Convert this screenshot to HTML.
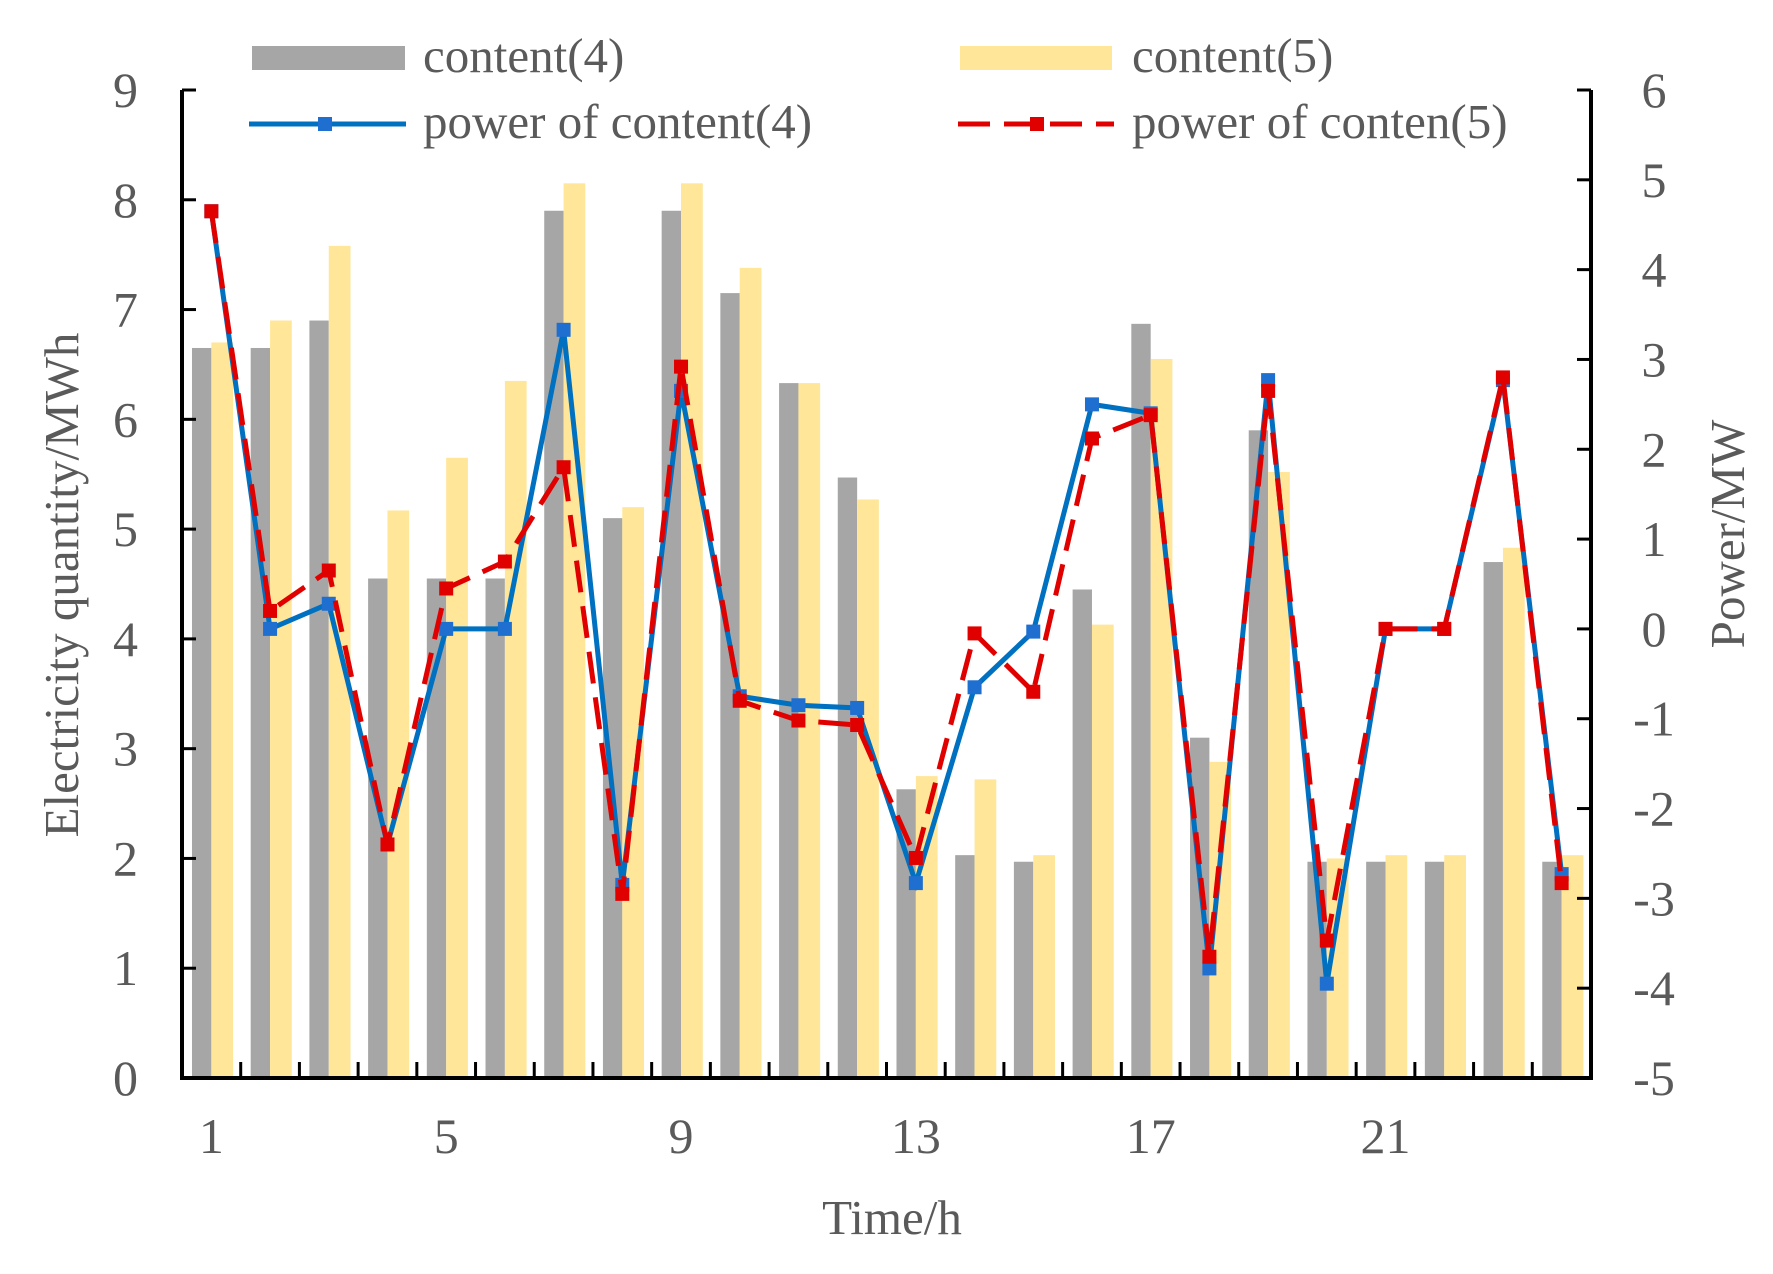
<!DOCTYPE html>
<html><head><meta charset="utf-8"><style>
body{margin:0;background:#fff}
svg{display:block;font-family:"Liberation Serif",serif}
</style></head><body>
<svg id="c" width="1773" height="1274" viewBox="0 0 1773 1274" xmlns="http://www.w3.org/2000/svg"></svg>
<script>
const hours=[1,2,3,4,5,6,7,8,9,10,11,12,13,14,15,16,17,18,19,20,21,22,23,24];
const content4=[6.65,6.65,6.9,4.55,4.55,4.55,7.9,5.1,7.9,7.15,6.33,5.47,2.63,2.03,1.97,4.45,6.87,3.1,5.9,1.97,1.97,1.97,4.7,1.97];
const content5=[6.7,6.9,7.58,5.17,5.65,6.35,8.15,5.2,8.15,7.38,6.33,5.27,2.75,2.72,2.03,4.13,6.55,2.88,5.52,2.0,2.03,2.03,4.83,2.03];
const power4=[4.65,0,0.28,-2.4,0,0,3.33,-2.85,2.65,-0.75,-0.85,-0.88,-2.83,-0.65,-0.03,2.5,2.4,-3.78,2.77,-3.95,0,0,2.77,-2.73];
const power5=[4.65,0.2,0.65,-2.4,0.45,0.75,1.8,-2.95,2.92,-0.8,-1.02,-1.07,-2.55,-0.05,-0.7,2.12,2.38,-3.65,2.65,-3.47,0,0,2.8,-2.83];
const leftTicks=[0,1,2,3,4,5,6,7,8,9];
const rightTicks=[-5,-4,-3,-2,-1,0,1,2,3,4,5,6];
const xLabels=[1,5,9,13,17,21];

const L=182,R=1591,T=90,B=1078,N=hours.length,cw=(R-L)/N;
const xc=h=>L+(h-0.5)*cw;
const yl=v=>B-(v/9)*(B-T);
const yr=v=>B-((v+5)/11)*(B-T);
const svg=document.getElementById('c');
const NS='http://www.w3.org/2000/svg';
function mk(tag,attrs,parent){const e=document.createElementNS(NS,tag);for(const k in attrs)e.setAttribute(k,attrs[k]);(parent||svg).appendChild(e);return e;}
const txtCol='#5a5a5a';

hours.forEach((h,i)=>{
  const x0=L+(h-1)*cw;
  let b=mk('rect',{x:x0+cw*0.17,y:yl(content4[i]),width:cw*0.33,height:B-yl(content4[i]),fill:'#a6a6a6'});
  
  
  b=mk('rect',{x:x0+cw*0.5,y:yl(content5[i]),width:cw*0.37,height:B-yl(content5[i]),fill:'#ffe699'});
  
  
});
let p4=mk('polyline',{points:hours.map((h,i)=>xc(h)+','+yr(power4[i])).join(' '),fill:'none',stroke:'#0070c0','stroke-width':5});


hours.forEach((h,i)=>{const m=mk('rect',{x:xc(h)-7,y:yr(power4[i])-7,width:14,height:14,fill:'#1f6fd0'});

});
let p5=mk('polyline',{points:hours.map((h,i)=>xc(h)+','+yr(power5[i])).join(' '),fill:'none',stroke:'#e00000','stroke-width':5,'stroke-dasharray':'32 14'});


hours.forEach((h,i)=>{const m=mk('rect',{x:xc(h)-7,y:yr(power5[i])-7,width:14,height:14,fill:'#e00000'});

});

const ax=mk('path',{d:`M${L},${T}V${B}H${R}V${T}`,fill:'none',stroke:'#000','stroke-width':4});


leftTicks.forEach(v=>{
  mk('line',{x1:L,x2:L+14,y1:yl(v),y2:yl(v),stroke:'#000','stroke-width':3});
  const t=mk('text',{x:138,y:yl(v)+17,'text-anchor':'end','font-size':50,fill:txtCol});t.textContent=v;
  
  
});
rightTicks.forEach(v=>{
  mk('line',{x1:R,x2:R-14,y1:yr(v),y2:yr(v),stroke:'#000','stroke-width':3});
  const t=mk('text',{x:1654,y:yr(v)+17,'text-anchor':'middle','font-size':50,fill:txtCol});t.textContent=v;
  
  
});
for(let k=1;k<N;k++){const x=L+k*cw;mk('line',{x1:x,x2:x,y1:B,y2:B-16,stroke:'#000','stroke-width':3});}
xLabels.forEach(v=>{
  const t=mk('text',{x:xc(v),y:1153,'text-anchor':'middle','font-size':50,fill:txtCol});t.textContent=v;
  
  
});
</script>
<svg style="position:absolute;left:0;top:0" width="1773" height="1274">
<g font-family="Liberation Serif,serif" fill="#5a5a5a" font-size="49">
<text x="892" y="1234" text-anchor="middle">Time/h</text>
<text transform="translate(78,585) rotate(-90)" text-anchor="middle">Electricity quantity/MWh</text>
<text transform="translate(1744,534) rotate(-90)" text-anchor="middle">Power/MW</text>
<g>
<rect x="252" y="46" width="153" height="24" fill="#a6a6a6"/>
<text x="423" y="72">content(4)</text>
<rect x="960" y="46" width="152" height="24" fill="#ffe699"/>
<text x="1132" y="72">content(5)</text>
<line x1="249" x2="406" y1="124" y2="124" stroke="#0070c0" stroke-width="5"/>
<rect x="318" y="117" width="14" height="14" fill="#1f6fd0"/>
<text x="423" y="138">power of content(4)</text>
<line x1="958" x2="1114" y1="124" y2="124" stroke="#e00000" stroke-width="5" stroke-dasharray="32 14"/>
<rect x="1030" y="117" width="14" height="14" fill="#e00000"/>
<text x="1132" y="138">power of conten(5)</text>
</g></g></svg>
</body></html>
